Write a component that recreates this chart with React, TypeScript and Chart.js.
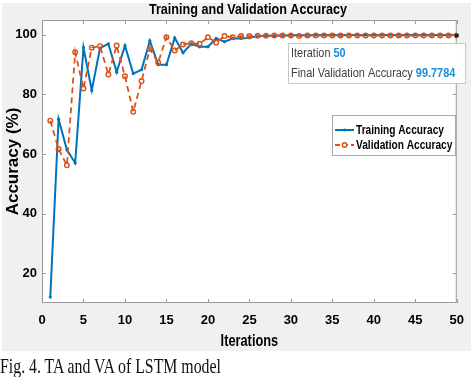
import React, { useEffect, useRef } from "react";
import { Chart, registerables } from "chart.js";

Chart.register(...registerables);

const iterations = Array.from({ length: 50 }, (_, i) => i + 1);
const trainingAccuracy = [
  12, 71.7, 61.4, 57, 95.7, 81.4, 95.6, 97, 87.5, 96.4,
  87, 88.3, 98, 90, 90, 99, 94, 97, 96, 96,
  98.8, 97.7, 98.8, 98.8, 99, 99.6, 99.7, 99.7, 99.8, 99.9,
  99.9, 99.9, 100, 100, 100, 99.9, 100, 100, 100, 100,
  100, 100, 99.9, 100, 100, 100, 100, 100, 100, 100,
];
const validationAccuracy = [
  71.2, 61.7, 56.2, 94.2, 82, 95.7, 96.2, 86.7, 96.4, 86.1,
  74.2, 84.5, 95.3, 90.7, 99.2, 94.8, 96.8, 97.2, 97, 99.2,
  97.4, 99.6, 99.2, 99.6, 99.6, 99.7, 99.7, 99.8, 99.8, 99.8,
  99.6, 99.8, 99.8, 99.8, 99.8, 99.8, 99.8, 99.8, 99.8, 99.8,
  99.8, 99.8, 99.8, 99.8, 99.8, 99.8, 99.8, 99.8, 99.8, 99.7784,
];
const xTickValues = [0, 5, 10, 15, 20, 25, 30, 35, 40, 45, 50];
const yTickValues = [20, 40, 60, 80, 100];
const seriesLabels = ["Training Accuracy", "Validation Accuracy"];
const chartTitle = "Training and Validation Accuracy";
const xTitle = "Iterations";
const yTitle = "Accuracy (%)";
const tipIterationLabel = "Iteration";
const tipAccuracyLabel = "Final Validation Accuracy";
const finalIteration = 50;
const finalValidation = "99.7784";
const caption = "Fig. 4. TA and VA of LSTM model";

const BLUE = "#0072BD";
const ORANGE = "#D95319";
const SANS = '"Liberation Sans", Arial, sans-serif';

function narrowText(
  ctx: CanvasRenderingContext2D,
  text: string,
  x: number,
  y: number,
  size: number,
  weight: string,
  sx: number,
  color: string,
  align: "left" | "center" | "right" = "left"
) {
  ctx.save();
  ctx.font = `${weight} ${size}px ${SANS}`;
  ctx.textBaseline = "middle";
  ctx.textAlign = "left";
  ctx.fillStyle = color;
  const w = ctx.measureText(text).width * sx;
  const left = align === "center" ? x - w / 2 : align === "right" ? x - w : x;
  ctx.translate(left, y);
  ctx.scale(sx, 1);
  ctx.fillText(text, 0, 0);
  ctx.restore();
  return w;
}

const matlabPlugin = {
  id: "matlabLook",
  beforeDraw(chart: any) {
    const { ctx, chartArea: a, width, height } = chart;
    ctx.save();
    ctx.fillStyle = "#ffffff";
    ctx.fillRect(0, 0, width, height);
    ctx.fillStyle = "#f0f0f0";
    ctx.fillRect(2, 3, 469, 348);
    ctx.fillStyle = "#ffffff";
    ctx.fillRect(a.left, a.top, a.right - a.left, a.bottom - a.top);
    ctx.restore();
    narrowText(ctx, chartTitle, 248, 10, 15, "bold", 0.84, "#000", "center");
    narrowText(ctx, xTitle, (a.left + a.right) / 2, 342, 16, "bold", 0.8, "#000", "center");
  },
  afterDatasetsDraw(chart: any) {
    const { ctx, chartArea: a, scales } = chart;
    ctx.save();
    ctx.strokeStyle = "#9a9a9a";
    ctx.lineWidth = 1;
    ctx.strokeRect(a.left + 0.5, a.top + 0.5, a.right - a.left - 1, a.bottom - a.top - 1);
    ctx.beginPath();
    const tl = 4;
    xTickValues.forEach((v) => {
      const px = Math.round(scales.x.getPixelForValue(v)) + 0.5;
      ctx.moveTo(px, a.bottom);
      ctx.lineTo(px, a.bottom - tl);
      ctx.moveTo(px, a.top);
      ctx.lineTo(px, a.top + tl);
    });
    yTickValues.forEach((v) => {
      const py = Math.round(scales.y.getPixelForValue(v)) + 0.5;
      ctx.moveTo(a.left, py);
      ctx.lineTo(a.left + tl, py);
      ctx.moveTo(a.right, py);
      ctx.lineTo(a.right - tl, py);
    });
    ctx.stroke();
    ctx.restore();
  },
  afterDraw(chart: any) {
    const { ctx, scales } = chart;
    ctx.save();
    // data tip marker
    const mx = scales.x.getPixelForValue(finalIteration);
    const my = scales.y.getPixelForValue(parseFloat(finalValidation));
    ctx.fillStyle = "#222";
    ctx.beginPath();
    ctx.arc(mx, my, 2.2, 0, Math.PI * 2);
    ctx.fill();

    // data tip box
    ctx.fillStyle = "rgba(255,255,255,0.95)";
    ctx.fillRect(288, 43, 177, 40);
    ctx.strokeStyle = "#c8c8c8";
    ctx.lineWidth = 1;
    ctx.strokeRect(288.5, 43.5, 177, 40);
    const sxTip = 0.84;
    const w1 = narrowText(ctx, tipIterationLabel + " ", 291, 53, 13, "normal", sxTip, "#404040");
    narrowText(ctx, String(finalIteration), 291 + w1, 53, 13, "bold", sxTip, "#1a8fd6");
    const w2 = narrowText(ctx, tipAccuracyLabel + " ", 291, 73, 13, "normal", sxTip, "#404040");
    narrowText(ctx, finalValidation, 291 + w2, 73, 13, "bold", sxTip, "#1a8fd6");

    // legend
    ctx.fillStyle = "#ffffff";
    ctx.fillRect(332, 115, 123, 40);
    ctx.strokeStyle = "#a8a8a8";
    ctx.strokeRect(332.5, 115.5, 123, 40);
    const rows = [130, 145];
    ctx.strokeStyle = BLUE;
    ctx.lineWidth = 2;
    ctx.beginPath();
    ctx.moveTo(335, rows[0]);
    ctx.lineTo(354, rows[0]);
    ctx.stroke();
    ctx.fillStyle = BLUE;
    ctx.beginPath();
    ctx.arc(344.5, rows[0], 1.6, 0, Math.PI * 2);
    ctx.fill();
    ctx.strokeStyle = ORANGE;
    ctx.lineWidth = 1.8;
    ctx.setLineDash([5, 3]);
    ctx.beginPath();
    ctx.moveTo(335, rows[1]);
    ctx.lineTo(354, rows[1]);
    ctx.stroke();
    ctx.setLineDash([]);
    ctx.fillStyle = "#fff";
    ctx.lineWidth = 1.4;
    ctx.beginPath();
    ctx.arc(344.5, rows[1], 2.2, 0, Math.PI * 2);
    ctx.fill();
    ctx.stroke();
    ctx.restore();
    narrowText(ctx, seriesLabels[0], 356, rows[0], 13, "bold", 0.78, "#000");
    narrowText(ctx, seriesLabels[1], 356, rows[1], 13, "bold", 0.78, "#000");
  },
};

export default function App() {
  const canvasRef = useRef<HTMLCanvasElement | null>(null);

  useEffect(() => {
    if (!canvasRef.current) return;
    const chart = new Chart(canvasRef.current, {
      type: "line",
      data: {
        datasets: [
          {
            label: seriesLabels[0],
            data: iterations.map((it, i) => ({ x: it, y: trainingAccuracy[i] })),
            borderColor: BLUE,
            backgroundColor: BLUE,
            borderWidth: 2,
            pointRadius: 1.6,
            pointBorderWidth: 0,
            pointBackgroundColor: BLUE,
            tension: 0,
            order: 1,
          },
          {
            label: seriesLabels[1],
            data: iterations.map((it, i) => ({ x: it, y: validationAccuracy[i] })),
            borderColor: ORANGE,
            backgroundColor: ORANGE,
            borderWidth: 1.8,
            borderDash: [6, 4],
            pointRadius: 2.3,
            pointBorderWidth: 1.4,
            pointBorderColor: ORANGE,
            pointBackgroundColor: "rgba(255,255,255,0)",
            tension: 0,
            order: 0,
          },
        ],
      },
      options: {
        responsive: false,
        animation: false,
        events: [],
        layout: { padding: { top: 20, right: 8, left: 0, bottom: 0 } },
        plugins: {
          legend: { display: false },
          tooltip: { enabled: false },
          title: { display: false },
        },
        scales: {
          x: {
            type: "linear",
            min: 0,
            max: 50,
            afterBuildTicks: (s: any) => {
              s.ticks = xTickValues.map((v) => ({ value: v }));
            },
            afterFit: (s: any) => {
              s.height = 74;
            },
            grid: { display: false, drawTicks: false },
            border: { display: false },
            ticks: {
              padding: 10,
              color: "#000",
              maxRotation: 0,
              autoSkip: false,
              font: { family: SANS, size: 13, weight: "bold" },
            },
            title: { display: false },
          },
          y: {
            type: "linear",
            min: 10,
            max: 105,
            afterBuildTicks: (s: any) => {
              s.ticks = yTickValues.map((v) => ({ value: v }));
            },
            afterFit: (s: any) => {
              s.width = 42;
            },
            grid: { display: false, drawTicks: false },
            border: { display: false },
            ticks: {
              padding: 5,
              color: "#000",
              autoSkip: false,
              font: { family: SANS, size: 13, weight: "bold" },
            },
            title: {
              display: true,
              text: yTitle,
              color: "#000",
              font: { family: SANS, size: 17, weight: "bold" },
              padding: { top: 3, bottom: 0 },
            },
          },
        },
      },
      plugins: [matlabPlugin],
    } as any);
    return () => chart.destroy();
  }, []);

  return (
    <div
      style={{
        position: "absolute",
        left: 0,
        top: 0,
        width: 474,
        height: 377,
        overflow: "hidden",
        background: "#fff",
      }}
    >
      <canvas
        ref={canvasRef}
        width={474}
        height={377}
        style={{ position: "absolute", left: 0, top: 0, width: 474, height: 377 }}
      />
      <div
        style={{
          position: "absolute",
          left: 0,
          top: 353,
          fontFamily: '"Liberation Serif", "Times New Roman", serif',
          fontSize: 22,
          lineHeight: "normal",
          whiteSpace: "nowrap",
          color: "#111",
          transform: "scaleX(0.72)",
          transformOrigin: "left top",
        }}
      >
        {caption}
      </div>
    </div>
  );
}
